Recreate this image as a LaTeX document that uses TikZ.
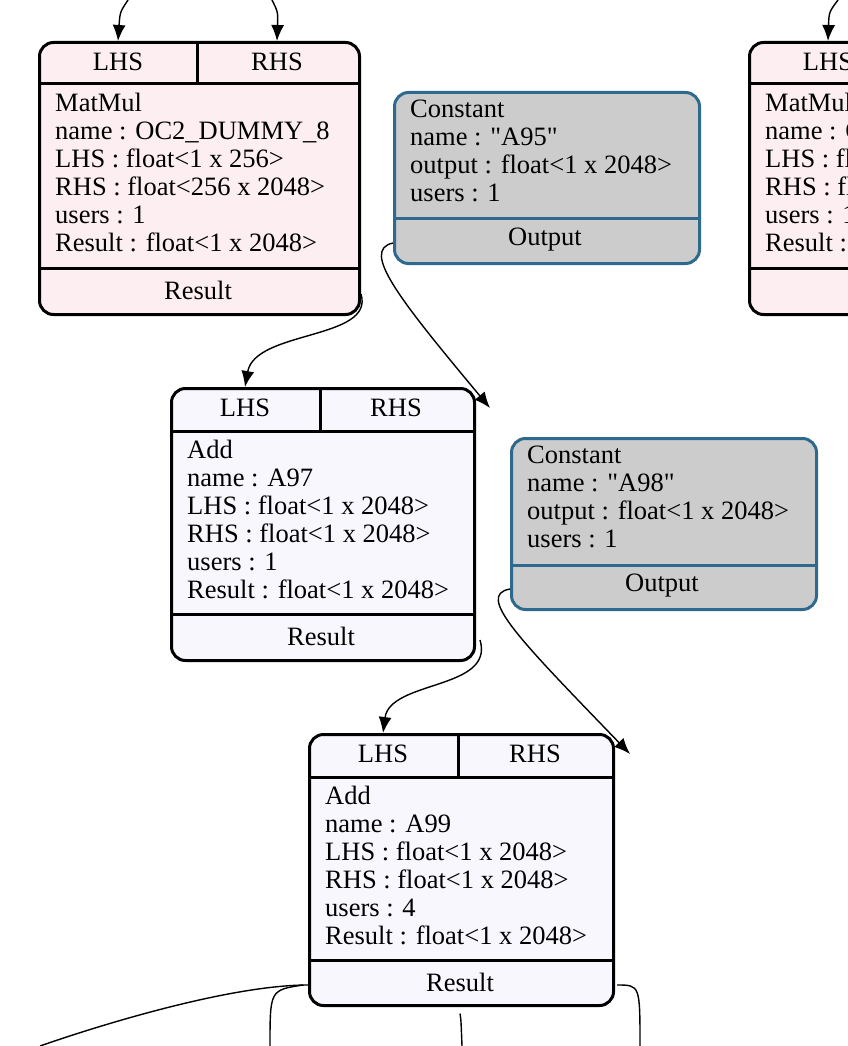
\documentclass[tikz,border=0pt]{standalone}
\usepackage{fontspec}
\setmainfont{Liberation Serif}[Ligatures=TeXOff]
\usetikzlibrary{arrows.meta}
\definecolor{pinkfill}{HTML}{FCEEF1}
\definecolor{lilacfill}{HTML}{F7F7FD}
\definecolor{constfill}{HTML}{CCCCCC}
\definecolor{constline}{HTML}{2E6A8E}
\begin{document}
\begin{tikzpicture}[x=1pt,y=1pt,>={Latex[length=16pt,width=13pt]},
        box/.style={draw,line width=3pt,rounded corners=14pt,inner sep=0pt},
        txt/.style={font=\fontsize{26.5}{28}\selectfont,inner sep=0pt},
        body/.style={txt,align=left,anchor=north west},
        edge/.style={line width=1.4pt}]
        \useasboundingbox (0,0) rectangle (848,-1046);
        \clip (0,0) rectangle (848,-1046);
        % MatMul
        \node[box,fill=pinkfill,minimum width=320pt,minimum height=272pt,anchor=north west] (mm) at (38,-41) {};
        \draw[line width=3pt] (38,-84) -- (358,-84) (197,-41) -- (197,-84) (38,-268) -- (358,-268);
        \node[txt] (mml) at (118,-62) {LHS};
        \node[txt] (mmr) at (277,-62) {RHS};
        \node[body] (mmb) at (55,-93) {MatMul\\name : OC2\_DUMMY\_8\\LHS : float<1 x 256>\\RHS : float<256 x 2048>\\users : 1\\Result : float<1 x 2048>};
        \node[txt] (mmo) at (198,-290) {Result};
        % second MatMul, cut off
        \node[box,fill=pinkfill,minimum width=320pt,minimum height=272pt,anchor=north west] (mm2) at (748,-41) {};
        \draw[line width=3pt] (748,-84) -- (1068,-84) (748,-268) -- (1068,-268);
        \node[txt] (mm2l) at (828,-62) {LHS};
        \node[body] (mm2b) at (765,-93) {MatMul\\name : OC2\_DUMMY\_9\\LHS : float<1 x 256>\\RHS : float<256 x 2048>\\users : 1\\Result : float<1 x 2048>};
        % Constant A95
        \node[box,draw=constline,fill=constfill,minimum width=305pt,minimum height=171pt,anchor=north west] (c95) at (393,-91) {};
        \draw[line width=3pt,constline] (393,-218) -- (698,-218);
        \node[body] (c95b) at (410,-100) {Constant\\name : "A95"\\output : float<1 x 2048>\\users : 1};
        \node[txt] (c95o) at (545,-240) {Output};
        % Add A97
        \node[box,fill=lilacfill,minimum width=303pt,minimum height=272pt,anchor=north west] (a97) at (170,-387) {};
        \draw[line width=3pt] (170,-431) -- (473,-431) (320,-387) -- (320,-431) (170,-614) -- (473,-614);
        \node[txt] (a97l) at (245,-408) {LHS};
        \node[txt] (a97r) at (396,-408) {RHS};
        \node[body] (a97b) at (187,-440) {Add\\name : A97\\LHS : float<1 x 2048>\\RHS : float<1 x 2048>\\users : 1\\Result : float<1 x 2048>};
        \node[txt] (a97o) at (321,-636) {Result};
        % Constant A98
        \node[box,draw=constline,fill=constfill,minimum width=305pt,minimum height=171pt,anchor=north west] (c98) at (510,-437) {};
        \draw[line width=3pt,constline] (510,-565) -- (815,-565);
        \node[body] (c98b) at (527,-446) {Constant\\name : "A98"\\output : float<1 x 2048>\\users : 1};
        \node[txt] (c98o) at (662,-586) {Output};
        % Add A99
        \node[box,fill=lilacfill,minimum width=304pt,minimum height=271pt,anchor=north west] (a99) at (308,-733) {};
        \draw[line width=3pt] (308,-777) -- (612,-777) (458,-733) -- (458,-777) (308,-960) -- (612,-960);
        \node[txt] (a99l) at (383,-754) {LHS};
        \node[txt] (a99r) at (535,-754) {RHS};
        \node[body] (a99b) at (325,-786) {Add\\name : A99\\LHS : float<1 x 2048>\\RHS : float<1 x 2048>\\users : 4\\Result : float<1 x 2048>};
        \node[txt] (a99o) at (460,-982) {Result};
        % connectors
        \coordinate (in1) at (128,0);
        \coordinate (in2) at (272,0);
        \coordinate (in3) at (838,0);
        \draw[edge,->] (in1) .. controls (120,-12) .. (mml.north |- mm.north);
        \draw[edge,->] (in2) .. controls (278,-12) .. (mmr.north |- mm.north);
        \draw[edge,->] (in3) .. controls (829,-12) .. (mm2l.north |- mm2.north);
        \draw[edge,->] (mm.south east) ++(0,22) .. controls (375,-340) and (255,-330) .. (a97l.north |- a97.north);
        \draw[edge,->] (c95.south west) ++(0,22) .. controls (360,-250) and (400,-300) .. (490,-408);
        \draw[edge,->] (a97.south east) ++(4,22) .. controls (495,-690) and (390,-680) .. (a99l.north |- a99.north);
        \draw[edge,->] (c98.south west) ++(0,22) .. controls (475,-595) and (520,-640) .. (630,-754);
        \coordinate (o1) at (40,-1046);
        \coordinate (o2) at (270,-1046);
        \coordinate (o3) at (462,-1046);
        \coordinate (o4) at (640,-1046);
        \draw[edge] (a99.south west) ++(0,22) .. controls (230,-985) and (100,-1025) .. (o1);
        \draw[edge] (a99.south west) ++(-5,22) .. controls (270,-990) .. (o2);
        \draw[edge] (a99o.south) ++(0,-22) .. controls (461,-1020) .. (o3);
        \draw[edge] (a99.south east) ++(2,22) .. controls (640,-985) .. (o4);
\end{tikzpicture}
\end{document}
